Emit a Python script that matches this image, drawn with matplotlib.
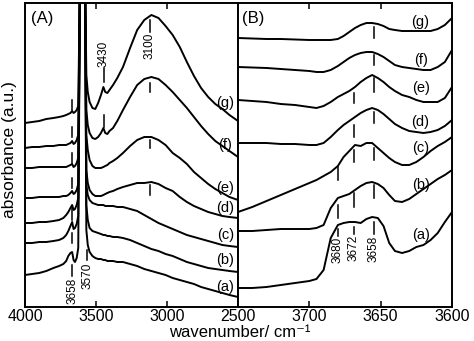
import matplotlib
matplotlib.use('Agg')
import matplotlib.pyplot as plt

plt.rcParams['font.family'] = ['Liberation Sans', 'DejaVu Sans']
plt.rcParams['mathtext.default'] = 'regular'

# ---------------- Panel A data (wavenumber, absorbance a.u.) ----------------
wn_A = [4000, 3950, 3900, 3850, 3800, 3760, 3730, 3710, 3695, 3680, 3668, 3658,
        3648, 3636, 3625, 3612, 3605, 3590, 3578, 3568, 3558, 3545, 3525, 3505,
        3485, 3465, 3448, 3435, 3420, 3405, 3380, 3350, 3310, 3260, 3210, 3160,
        3110, 3060, 3010, 2960, 2910, 2860, 2810, 2760, 2710, 2660, 2610, 2560, 2500]

A_g = [184, 185, 186, 188, 189, 190, 191, 192, 193, 194, 196, 194, 195, 197, 201,
       340, 340, 340, 340,
       232, 215, 205, 199, 198, 204, 212, 220, 215, 214, 217, 222, 229, 240, 259,
       277, 287, 292, 289, 281, 272, 260, 245, 231, 219, 210, 203, 198, 192, 186]
A_f = [159, 160, 160, 161, 161, 162, 162, 162, 163, 164, 166, 163, 164, 167, 172,
       340, 340, 340, 340,
       197, 182, 174, 169, 168, 170, 174, 179, 174, 173, 176, 179, 186, 197, 210,
       222, 228, 230, 228, 222, 215, 207, 199, 190, 181, 173, 166, 161, 156, 150]
A_e = [139, 139, 140, 140, 140, 140, 140, 140, 141, 142, 143, 140, 141, 144, 149,
       340, 340, 340, 340,
       172, 157, 147, 141, 139, 139, 139, 140, 141, 142, 144, 146, 149, 154, 161,
       167, 170, 170, 167, 162, 154, 149, 143, 135, 129, 123, 118, 114, 110, 107]
A_d = [109, 109, 110, 110, 110, 110, 111, 111, 112, 114, 116, 113, 114, 117, 123,
       340, 340, 340, 340,
       137, 124, 117, 113, 111, 111, 111, 112, 113, 114, 115, 116, 118, 120, 122,
       124, 124, 125, 123, 119, 116, 110, 105, 101, 98, 95, 93, 91, 90, 89]
A_c = [84, 84, 85, 85, 86, 87, 89, 92, 95, 99, 102, 97, 98, 102, 109,
       340, 340, 340, 340,
       122, 112, 107, 104, 103, 102, 102, 102, 101, 101, 101, 101, 100, 100, 98,
       96, 92, 88, 84, 81, 78, 75, 72, 70, 68, 66, 64, 62, 61, 60]
A_b = [64, 64, 65, 65, 66, 67, 69, 72, 76, 81, 85, 78, 79, 83, 91,
       340, 340, 340, 340,
       102, 87, 79, 76, 75, 74, 73, 72, 72, 71, 71, 70, 70, 69, 67,
       64, 61, 58, 56, 53, 51, 48, 45, 43, 41, 39, 38, 37, 36, 35]
A_a = [32, 33, 34, 36, 39, 41, 43, 46, 51, 54, 55, 47, 45, 49, 59,
       340, 340, 340, 340,
       77, 62, 55, 51, 49, 48, 48, 47, 47, 46, 46, 46, 45, 45, 43,
       41, 38, 36, 34, 32, 29, 27, 25, 23, 20, 18, 16, 14, 12, 10]

# ---------------- Panel B data ----------------
wn_B = [3750, 3740, 3730, 3720, 3710, 3700, 3695, 3690, 3685, 3680, 3676, 3672,
        3668, 3664, 3660, 3656, 3652, 3648, 3644, 3640, 3635, 3630, 3625, 3620,
        3615, 3610, 3605, 3600]
B_g = [269, 268.5, 268, 268, 267.5, 267, 267, 267, 267, 268, 271, 275, 279, 282,
       284, 284, 283, 281, 278, 277, 276, 276, 276, 276, 276, 278, 282, 289]
B_f = [240, 239.5, 239, 238, 237, 236, 235, 235, 237, 241, 245, 249, 252, 254,
       255, 255, 253, 250, 246, 242, 240, 239, 238, 237, 237, 240, 245, 257]
B_e = [207, 206, 205, 203, 202, 200, 199, 201, 205, 210, 213, 216, 220, 225,
       229, 232, 229, 225, 220, 216, 212, 210, 207, 205, 205, 205, 209, 220]
B_d = [164, 164, 164, 163, 163, 162, 162, 164, 170, 177, 182, 186, 190, 194,
       197, 199, 197, 193, 188, 183, 179, 176, 175, 174, 175, 177, 181, 187]
B_c = [95, 100, 106, 112, 118, 124, 127, 131, 135, 141, 150, 156, 162, 161,
       164, 164, 159, 154, 149, 145, 142, 142, 145, 150, 156, 161, 165, 170]
B_b = [76, 76, 77, 78, 78, 78, 79, 82, 99, 109, 111, 113, 117, 121,
       124, 125, 123, 119, 112, 106, 105, 108, 113, 118, 123, 128, 132, 137]
B_a = [19, 19, 20, 22, 24, 26, 28, 37, 69, 82, 84, 85, 85, 84,
       88, 90, 89, 81, 64, 56, 54, 56, 60, 62, 67, 74, 85, 95]

curve_names = ['(g)', '(f)', '(e)', '(d)', '(c)', '(b)', '(a)']
xticks_A = [4000, 3500, 3000, 2500]
xticks_B = [3700, 3650, 3600]

# peak markers: (wavenumber, y_start, y_end)
marks_A = [(3668, 197, 207), (3668, 170, 180), (3668, 144, 154), (3668, 119, 129),
           (3668, 87, 99), (3668, 64, 74), (3668, 31, 42),
           (3563, 47, 57),
           (3444, 225, 239), (3444, 180, 192),
           (3120, 275, 287), (3120, 215, 224), (3120, 159, 167), (3120, 112, 122)]
marks_B = [(3655, 269, 280), (3655, 242, 252),
           (3669, 204, 214), (3655, 215, 229),
           (3669, 170, 182), (3655, 184, 195),
           (3680, 127, 140), (3669, 145, 157), (3655, 147, 159),
           (3680, 89, 102), (3669, 100, 114), (3655, 109, 122),
           (3680, 71, 78), (3669, 73, 80), (3655, 73, 85)]
# rotated labels: (wavenumber, y, text, va)
labels_A = [(3668, 29, '3658', 'top'), (3563, 44, '3570', 'top'),
            (3444, 240, '3430', 'bottom'), (3120, 274, '3100', 'top')]
labels_B = [(3680, 70, '3680', 'top'), (3669, 72, '3672', 'top'),
            (3655, 71, '3658', 'top')]

lab_y_A = [204, 162, 119, 99, 72, 47, 20]
lab_y_B = [285, 247, 219, 185, 159, 122, 72]

fig = plt.figure(figsize=(4.74, 3.41), dpi=100)
axA = fig.add_axes([25/474, 34/341, 213/474, 304/341])
axB = fig.add_axes([238/474, 34/341, 214/474, 304/341])

lw = 1.4
for ys in [A_g, A_f, A_e, A_d, A_c, A_b, A_a]:
    axA.plot(wn_A, ys, color='black', lw=lw, solid_joinstyle='round')
for ys in [B_g, B_f, B_e, B_d, B_c, B_b, B_a]:
    axB.plot(wn_B, ys, color='black', lw=lw, solid_joinstyle='round')

for ax, marks, labels in [(axA, marks_A, labels_A), (axB, marks_B, labels_B)]:
    for x, y0, y1 in marks:
        ax.plot([x, x], [y0, y1], color='black', lw=1.1)
    for x, y, t, va in labels:
        ax.text(x, y, t, rotation=90, ha='center', va=va, fontsize=8.5)

for name, y in zip(curve_names, lab_y_A):
    axA.text(2590, y, name, ha='center', va='center', fontsize=10.5)
for name, y in zip(curve_names, lab_y_B):
    axB.text(3622, y, name, ha='center', va='center', fontsize=10.5)

axA.set_xlim(4000, 2500)
axB.set_xlim(3750, 3600)
axA.set_xticks(xticks_A)
axB.set_xticks(xticks_B)
for ax in (axA, axB):
    ax.set_ylim(0, 304)
    ax.set_yticks([])
    ax.tick_params(axis='x', direction='in', top=True, length=4, width=1.1,
                   labelsize=11.5, pad=1.5)
    for s in ax.spines.values():
        s.set_linewidth(1.4)

axA.text(0.03, 0.975, '(A)', transform=axA.transAxes, ha='left', va='top', fontsize=12)
axB.text(0.02, 0.975, '(B)', transform=axB.transAxes, ha='left', va='top', fontsize=12)

fig.text(10/474, 1 - 150/341, 'absorbance (a.u.)', rotation=90, ha='center',
         va='center', fontsize=12.5)
fig.text(240/474, 1/341, 'wavenumber/ cm\u207b\u00b9', ha='center', va='bottom',
         fontsize=12)

fig.savefig('out.png', dpi=100)
